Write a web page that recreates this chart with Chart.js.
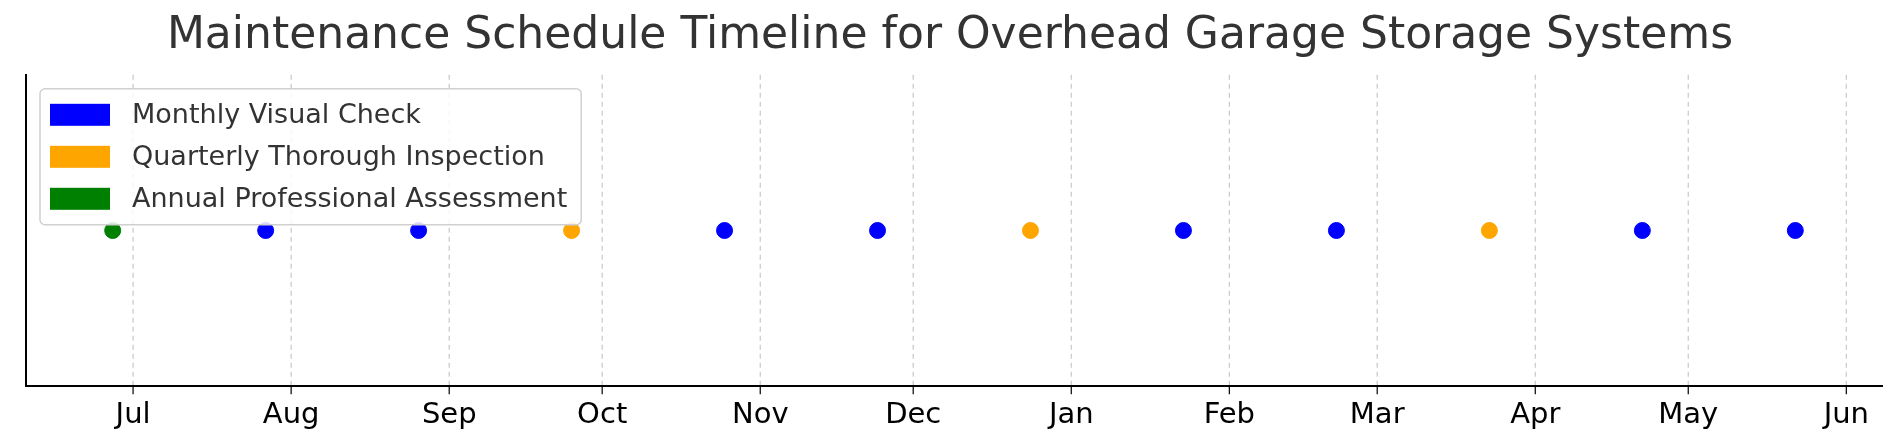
<!DOCTYPE html>
<html>
<head>
<meta charset="utf-8">
<script src="https://cdn.jsdelivr.net/npm/chart.js@4"></script>
<style>
  html, body { margin: 0; padding: 0; background: #fff; }
  #wrap { width: 1900px; height: 441px; }
</style>
</head>
<body>
<div id="wrap"><canvas id="chartMain"></canvas></div>
<script>
const monthlyDates = ['2023-07-27', '2023-08-26', '2023-10-25', '2023-11-24', '2024-01-23', '2024-02-22', '2024-04-22', '2024-05-22'];
const quarterlyDates = ['2023-09-25', '2023-12-24', '2024-03-23'];
const annualDates = ['2023-06-27'];
const tickMonths = ['2023-07-01', '2023-08-01', '2023-09-01', '2023-10-01', '2023-11-01', '2023-12-01',
  '2024-01-01', '2024-02-01', '2024-03-01', '2024-04-01', '2024-05-01', '2024-06-01'];
const tickLabels = ['Jul', 'Aug', 'Sep', 'Oct', 'Nov', 'Dec', 'Jan', 'Feb', 'Mar', 'Apr', 'May', 'Jun'];
const seriesNames = ['Monthly Visual Check', 'Quarterly Thorough Inspection', 'Annual Professional Assessment'];
const seriesColors = ['#0000ff', '#ffa500', '#008000'];

const toDay = s => Date.parse(s + 'T00:00:00Z') / 86400000;
const tickDays = tickMonths.map(toDay);
const toPoints = arr => arr.map(d => ({ x: toDay(d), y: 1 }));

const lineChart = document.getElementById('chartMain');

const insideLegend = {
  id: 'insideLegend',
  afterDraw: chart => {
    const ctx = chart.ctx;
    const a = chart.chartArea;
    ctx.save();
    ctx.font = "27px 'DejaVu Sans'";
    const w = Math.max(...seriesNames.map(n => ctx.measureText(n).width)) + 106;
    const x0 = a.left + 14, y0 = a.top + 14, rowH = 42, h = rowH * 3 + 10;
    ctx.fillStyle = 'rgba(255,255,255,0.85)';
    ctx.strokeStyle = '#d0d0d0';
    ctx.lineWidth = 1.5;
    ctx.beginPath();
    ctx.roundRect(x0, y0, w, h, 5);
    ctx.fill();
    ctx.stroke();
    seriesNames.forEach((n, i) => {
      const cy = y0 + 5 + rowH * i + rowH / 2;
      ctx.fillStyle = seriesColors[i];
      ctx.fillRect(x0 + 10, cy - 11, 60, 22);
      ctx.fillStyle = '#333';
      ctx.textBaseline = 'middle';
      ctx.fillText(n, x0 + 92, cy + 1);
    });
    ctx.restore();
  }
};

const mkSet = (label, dates, color) => ({
  label: label,
  data: toPoints(dates),
  backgroundColor: color,
  borderColor: color,
  pointRadius: 8,
  pointHoverRadius: 8
});

new Chart(lineChart, {
  type: 'scatter',
  data: {
    datasets: [
      mkSet(seriesNames[0], monthlyDates, seriesColors[0]),
      mkSet(seriesNames[1], quarterlyDates, seriesColors[1]),
      mkSet(seriesNames[2], annualDates, seriesColors[2])
    ]
  },
  options: {
    responsive: true,
    maintainAspectRatio: false,
    animation: false,
    layout: { padding: { left: 18, right: 18, top: 0, bottom: 4 } },
    scales: {
      x: {
        type: 'linear',
        min: toDay('2023-06-10'),
        max: toDay('2024-06-08'),
        afterBuildTicks: axis => { axis.ticks = tickDays.map(v => ({ value: v })); },
        ticks: {
          callback: v => tickLabels[tickDays.indexOf(v)],
          font: { family: "'DejaVu Sans'", size: 29 },
          color: '#000',
          maxRotation: 0,
          autoSkip: false,
          padding: 4
        },
        grid: { display: false },
        border: { display: true, color: '#000', width: 2 }
      },
      y: {
        min: 0,
        max: 2,
        ticks: { display: false },
        grid: { display: false },
        border: { display: true, color: '#000', width: 2 }
      }
    },
    plugins: {
      legend: { display: false },
      tooltip: { enabled: false },
      title: {
        display: true,
        text: 'Maintenance Schedule Timeline for Overhead Garage Storage Systems',
        font: { family: "'DejaVu Sans'", size: 44, weight: 'normal' },
        color: '#333',
        padding: { top: 10, bottom: 12 }
      }
    }
  },
  plugins: [insideLegend, {
    id: 'dashGrid',
    beforeDraw: chart => {
      const ctx = chart.ctx, a = chart.chartArea, sx = chart.scales.x;
      ctx.save();
      ctx.strokeStyle = '#c8c8c8';
      ctx.lineWidth = 1.2;
      tickDays.forEach(v => {
        const x = sx.getPixelForValue(v);
        ctx.setLineDash([5, 4]);
        ctx.beginPath();
        ctx.moveTo(x, a.top);
        ctx.lineTo(x, a.bottom);
        ctx.stroke();
        ctx.setLineDash([]);
        ctx.strokeStyle = '#000';
        ctx.beginPath();
        ctx.moveTo(x, a.bottom);
        ctx.lineTo(x, a.bottom + 8);
        ctx.stroke();
        ctx.strokeStyle = '#c8c8c8';
      });
      ctx.restore();
    }
  }]
});
</script>
</body>
</html>
